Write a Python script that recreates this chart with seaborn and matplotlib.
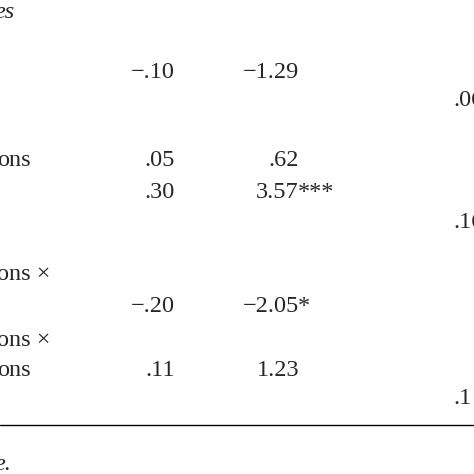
import matplotlib
matplotlib.use("Agg")
import matplotlib.pyplot as plt
import seaborn as sns

sns.set_theme(style="white")
plt.rcParams['font.family'] = ['Liberation Serif', 'DejaVu Serif']

row_labels = ["ons", "ons ×", "ons ×", "ons"]
row_label_y = [160, 275, 340, 370]
beta_vals = ["−.10", ".05", ".30", "−.20", ".11"]
t_vals = ["−1.29", ".62", "3.57", "−2.05", "1.23"]
t_stars = ["", "", "***", "*", ""]
value_y = [72, 160, 193, 307, 370]
r2_vals = [".06", ".16", ".1"]
r2_y = [100, 222, 398]

fig = plt.figure(figsize=(4.74, 4.74), dpi=100)
ax = fig.add_axes([0, 0, 1, 1])
ax.set_xlim(0, 474)
ax.set_ylim(474, 0)
ax.axis("off")
fs = 17.5

ax.text(-6, 12, "es", fontsize=fs, style="italic", va="center", ha="left")
for lab, y in zip(row_labels, row_label_y):
    ax.text(-3, y, lab, fontsize=fs, va="center", ha="left")
for b, t, s, y in zip(beta_vals, t_vals, t_stars, value_y):
    ax.text(175, y, b, fontsize=fs, va="center", ha="right")
    ax.text(299, y, t, fontsize=fs, va="center", ha="right")
    if s:
        ax.text(298, y, s, fontsize=fs, va="center", ha="left")
for r, y in zip(r2_vals, r2_y):
    ax.text(453, y, r, fontsize=fs, va="center", ha="left")

ax.plot([0, 474], [425, 425], color="black", lw=1)
ax.text(-6, 464, "e.", fontsize=fs, style="italic", va="center", ha="left")

fig.savefig("out.png", dpi=100)
